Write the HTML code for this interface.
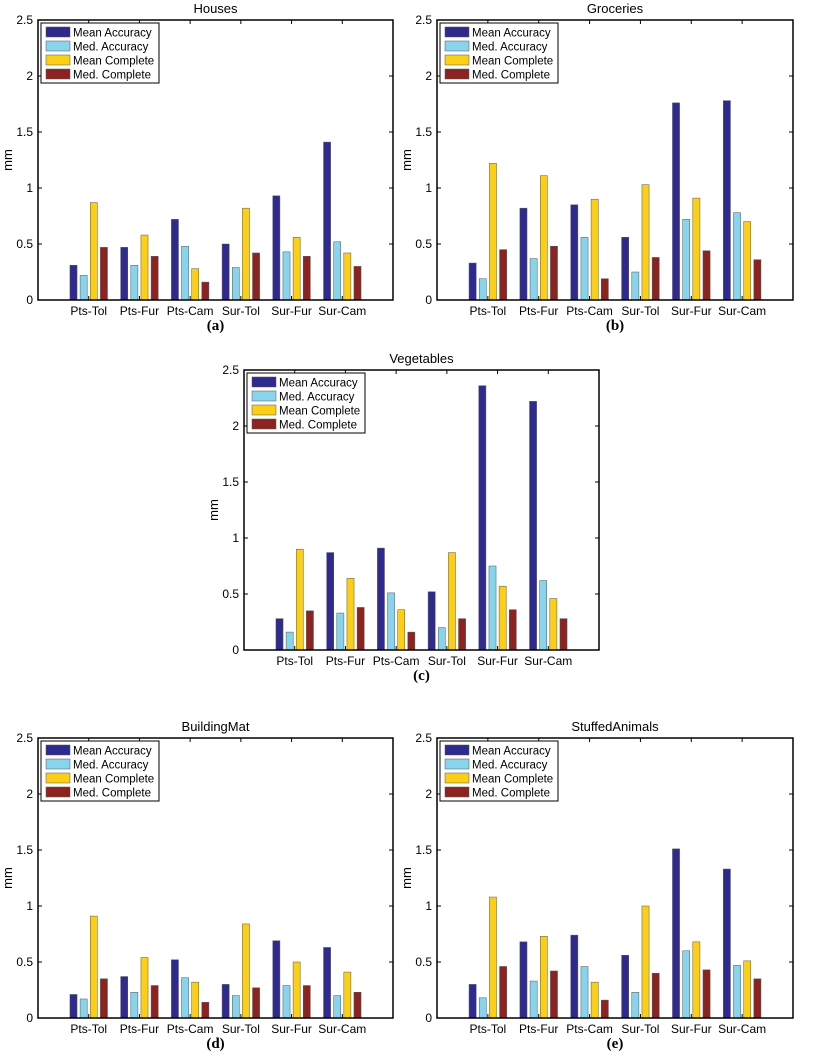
<!DOCTYPE html>
<html><head><meta charset="utf-8"><style>
html,body{margin:0;padding:0;background:#fff;}
svg{display:block;font-family:"Liberation Sans",sans-serif;}
</style></head><body>
<svg id="fig" width="814" height="1063" viewBox="0 0 814 1063"></svg>
<script>
const categories = ["Pts-Tol","Pts-Fur","Pts-Cam","Sur-Tol","Sur-Fur","Sur-Cam"];
const seriesNames = ["Mean Accuracy","Med.  Accuracy","Mean Complete","Med.  Complete"];
const yTicks = [0,0.5,1,1.5,2,2.5];
const yTickLabels = ["0","0.5","1","1.5","2","2.5"];
const housesMeanAcc = [0.31,0.47,0.72,0.50,0.93,1.41];
const housesMedAcc  = [0.22,0.31,0.48,0.29,0.43,0.52];
const housesMeanCom = [0.87,0.58,0.28,0.82,0.56,0.42];
const housesMedCom  = [0.47,0.39,0.16,0.42,0.39,0.30];
const grocMeanAcc = [0.33,0.82,0.85,0.56,1.76,1.78];
const grocMedAcc  = [0.19,0.37,0.56,0.25,0.72,0.78];
const grocMeanCom = [1.22,1.11,0.90,1.03,0.91,0.70];
const grocMedCom  = [0.45,0.48,0.19,0.38,0.44,0.36];
const vegMeanAcc = [0.28,0.87,0.91,0.52,2.36,2.22];
const vegMedAcc  = [0.16,0.33,0.51,0.20,0.75,0.62];
const vegMeanCom = [0.90,0.64,0.36,0.87,0.57,0.46];
const vegMedCom  = [0.35,0.38,0.16,0.28,0.36,0.28];
const bmMeanAcc = [0.21,0.37,0.52,0.30,0.69,0.63];
const bmMedAcc  = [0.17,0.23,0.36,0.20,0.29,0.20];
const bmMeanCom = [0.91,0.54,0.32,0.84,0.50,0.41];
const bmMedCom  = [0.35,0.29,0.14,0.27,0.29,0.23];
const saMeanAcc = [0.30,0.68,0.74,0.56,1.51,1.33];
const saMedAcc  = [0.18,0.33,0.46,0.23,0.60,0.47];
const saMeanCom = [1.08,0.73,0.32,1.00,0.68,0.51];
const saMedCom  = [0.46,0.42,0.16,0.40,0.43,0.35];

const colors = ["#2f2a8e","#88d4ec","#fccf17","#8b2420"];
const panels = [
  {title:"Houses",cap:"(a)",x0:38,x1:393,y0:20,y1:300,data:[housesMeanAcc,housesMedAcc,housesMeanCom,housesMedCom]},
  {title:"Groceries",cap:"(b)",x0:437,x1:793,y0:20,y1:300,data:[grocMeanAcc,grocMedAcc,grocMeanCom,grocMedCom]},
  {title:"Vegetables",cap:"(c)",x0:244,x1:599,y0:370,y1:650,data:[vegMeanAcc,vegMedAcc,vegMeanCom,vegMedCom]},
  {title:"BuildingMat",cap:"(d)",x0:38,x1:393,y0:738,y1:1018,data:[bmMeanAcc,bmMedAcc,bmMeanCom,bmMedCom]},
  {title:"StuffedAnimals",cap:"(e)",x0:437,x1:793,y0:738,y1:1018,data:[saMeanAcc,saMedAcc,saMeanCom,saMedCom]}
];
const NS="http://www.w3.org/2000/svg";
const svg=document.getElementById("fig");
function mk(tag,attrs,parent,text){const e=document.createElementNS(NS,tag);for(const k in attrs)e.setAttribute(k,attrs[k]);if(text!==undefined)e.textContent=text;parent.appendChild(e);return e;}
panels.forEach((p,pi)=>{
  const g=mk("g",{},svg);
  
  
  const sx=v=>p.x0+(p.x1-p.x0)*v/7;
  const sy=v=>p.y1-(p.y1-p.y0)*v/2.5;
  const offs=[-0.3,-0.1,0.1,0.3], bw=0.14;
  p.data.forEach((series,si)=>{
    series.forEach((v,ci)=>{
      const xl=sx(ci+1+offs[si]-bw/2), xr=sx(ci+1+offs[si]+bw/2);
      const r=mk("rect",{x:xl,y:sy(v),width:xr-xl,height:sy(0)-sy(v),fill:colors[si],stroke:"#555","stroke-width":0.5},g);
      
      
    });
  });
  const box=mk("rect",{x:p.x0,y:p.y0,width:p.x1-p.x0,height:p.y1-p.y0,fill:"none",stroke:"#000","stroke-width":1.5},g);
  
  
  yTicks.forEach((t,i)=>{
    const y=sy(t);
    mk("line",{x1:p.x0,x2:p.x0+4,y1:y,y2:y,stroke:"#000"},g);
    mk("line",{x1:p.x1,x2:p.x1-4,y1:y,y2:y,stroke:"#000"},g);
    const tl=mk("text",{x:p.x0-5,y:y+4,"text-anchor":"end","font-size":12},g,yTickLabels[i]);
    
    
  });
  categories.forEach((c,ci)=>{
    const x=sx(ci+1);
    mk("line",{x1:x,x2:x,y1:p.y1,y2:p.y1-4,stroke:"#000"},g);
    mk("line",{x1:x,x2:x,y1:p.y0,y2:p.y0+4,stroke:"#000"},g);
    const xl=mk("text",{x:x,y:p.y1+15,"text-anchor":"middle","font-size":12},g,c);
    
    
  });
  const yt=mk("text",{x:0,y:0,"text-anchor":"middle","font-size":13,transform:`translate(${p.x0-26},${(p.y0+p.y1)/2}) rotate(-90)`},g,"mm");
  
  
  const tt=mk("text",{x:(p.x0+p.x1)/2,y:p.y0-7,"text-anchor":"middle","font-size":13},g,p.title);
  
  
  const cp=mk("text",{x:(p.x0+p.x1)/2,y:p.y1+30,"text-anchor":"middle","font-size":15,"font-weight":"bold","font-family":"Liberation Serif, serif"},g,p.cap);
  
  
  const lg=mk("g",{},g);
  
  
  mk("rect",{x:p.x0+3,y:p.y0+3,width:118,height:60,fill:"#fff",stroke:"#000","stroke-width":1},lg);
  seriesNames.forEach((n,si)=>{
    const yy=p.y0+7+si*14;
    const sw=mk("rect",{x:p.x0+8,y:yy,width:24,height:10,fill:colors[si],stroke:"#555","stroke-width":0.5},lg);
    
    
    const lt=mk("text",{x:p.x0+35,y:yy+9.5,"font-size":11.5},lg,n);
    
    
  });
});
</script>
</body></html>
